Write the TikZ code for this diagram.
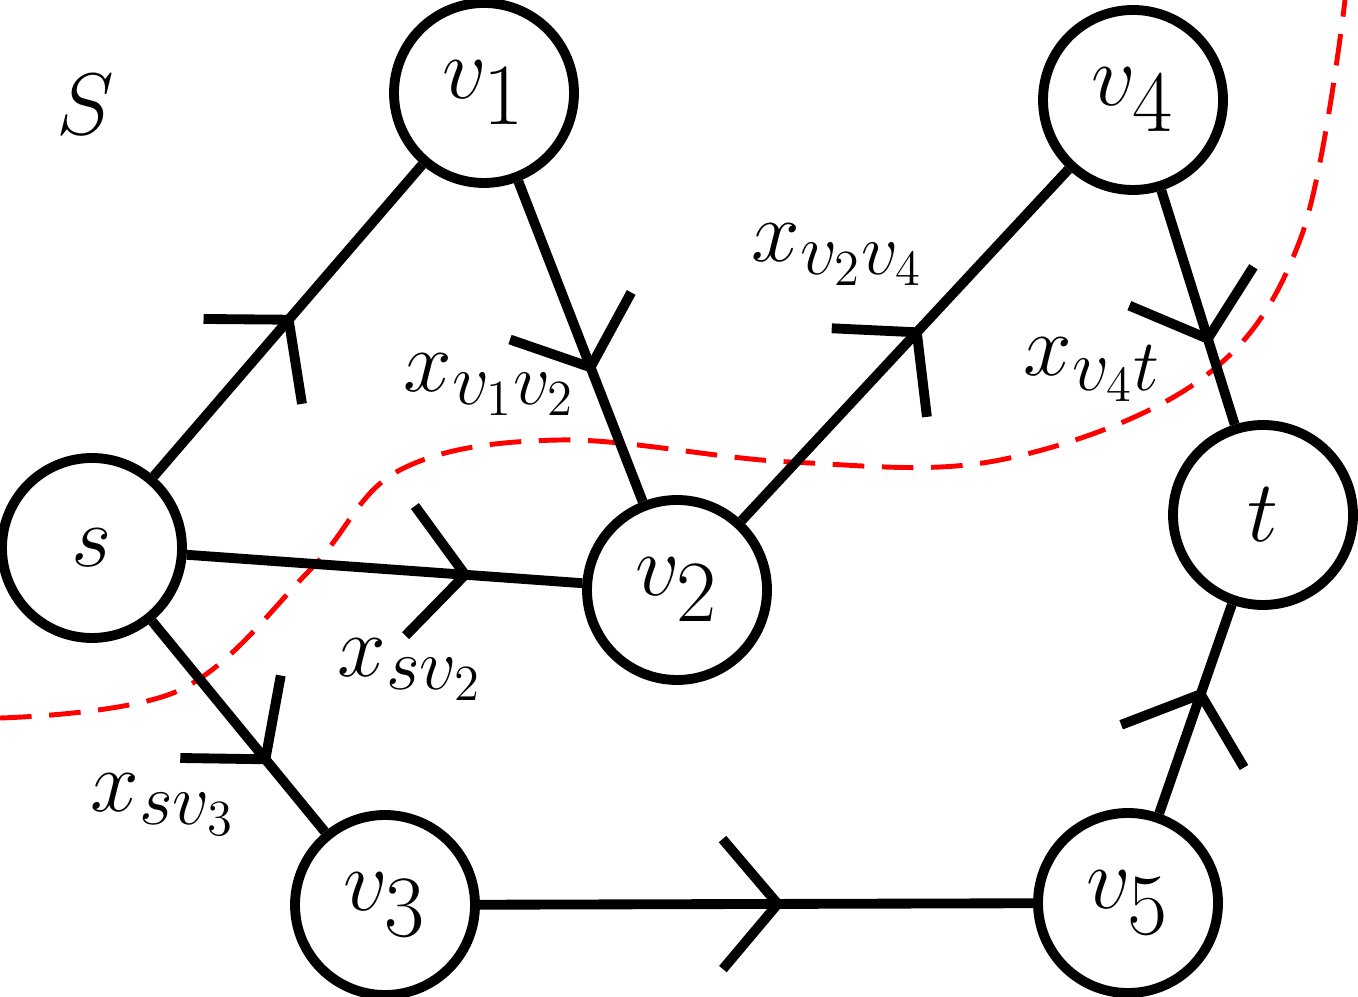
\documentclass[tikz,border=0pt]{standalone}
\usetikzlibrary{arrows.meta, decorations.markings}
\tikzset{
  vert/.style={circle, draw, line width=2.8pt, minimum size=1.8cm, inner sep=0pt, font=\fontsize{50}{50}\selectfont},
  flow/.style={line width=2.8pt, decoration={markings, mark=at position #1 with {\arrow[line width=2.8pt]{Straight Barb[length=0.55cm, width=1.3cm]}}}, postaction=decorate},
  flow/.default=0.55,
  elabel/.style={font=\fontsize{28}{28}\selectfont},
  cut/.style={red, line width=1.4pt, dash pattern=on 9pt off 5pt}
}
\begin{document}
\begin{tikzpicture}
    \useasboundingbox (0,0) rectangle (13.58,9.97);
    % Vertices
    \node[vert] (s) at (0.92, 4.49) {$s$};
    \node[vert] (v1) at (4.84, 9.04) {$v_1$};
    \node[vert] (v2) at (6.77, 4.07) {$v_2$};
    \node[vert] (v3) at (3.85, 0.92) {$v_3$};
    \node[vert] (v4) at (11.33, 8.97) {$v_4$};
    \node[vert] (v5) at (11.28, 0.94) {$v_5$};
    \node[vert] (t) at (12.63, 4.82) {$t$};
    \node[font=\fontsize{72}{72}\selectfont] (S) at (0.85, 8.92) {$S$};

    % Cut
    \draw[cut] plot[smooth, tension=0.6] coordinates {(0,2.79) (1.8,3.07) (3.1,4.27) (4.0,5.27) (5.6,5.57) (7.9,5.35) (10,5.37) (12,6.17) (13,7.57) (13.45,9.97)};

    % Edges
    \draw[flow=0.52] (s) -- (v1);
    \draw[flow=0.6] (v1) -- (v2);
    \draw[flow=0.72] (s) -- (v2);
    \draw[flow=0.68] (s) -- (v3);
    \draw[flow=0.55] (v2) -- (v4);
    \draw[flow=0.66] (v4) -- (t);
    \draw[flow] (v3) -- (v5);
    \draw[flow=0.6] (v5) -- (t);

    % Edge labels
    \node[elabel] (lv1v2) at (4.9, 6.12) {$x_{v_1v_2}$};
    \node[elabel] (lv2v4) at (8.38, 7.42) {$x_{v_2v_4}$};
    \node[elabel] (lv4t) at (10.92, 6.27) {$x_{v_4t}$};
    \node[elabel] (lsv2) at (4.1, 3.27) {$x_{sv_2}$};
    \node[elabel] (lsv3) at (1.63, 1.92) {$x_{sv_3}$};
\end{tikzpicture}
\end{document}
